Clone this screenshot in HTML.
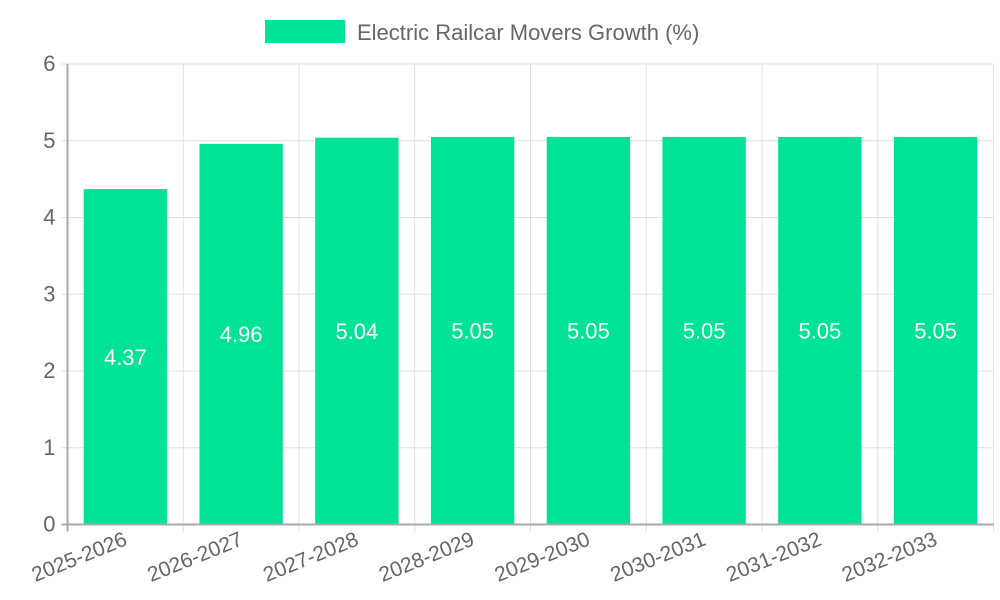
<!DOCTYPE html>
<html><head><meta charset="utf-8"><style>
body{margin:0;background:#fff;}
svg{display:block;font-family:"Liberation Sans",sans-serif;}
</style></head><body>
<svg id="chart" width="1000" height="600">
<g id="legend">
<rect x="265" y="20" width="80" height="23" fill="#00e295"/>
<text x="357" y="40" font-size="22" fill="#666">Electric Railcar Movers Growth (%)</text>
</g>
<g id="grid"></g><g id="bars"></g><g id="axes"></g>
</svg>
<script>
const categories=["2025-2026","2026-2027","2027-2028","2028-2029","2029-2030","2030-2031","2031-2032","2032-2033"];
const values=[4.37,4.96,5.04,5.05,5.05,5.05,5.05,5.05];
const yTicks=[0,1,2,3,4,5,6];
const NS="http://www.w3.org/2000/svg";
const L=67.5,R=993.5,T=64,B=524.5,yMax=6;
const y=v=>B-(v/yMax)*(B-T);
const bw=(R-L)/categories.length;
const x=i=>L+i*bw;
function mk(tag,attrs,parent,txt){const e=document.createElementNS(NS,tag);for(const k in attrs)e.setAttribute(k,attrs[k]);if(txt!==undefined)e.textContent=txt;parent.appendChild(e);return e;}
const grid=document.getElementById('grid'),bars=document.getElementById('bars'),axes=document.getElementById('axes');
yTicks.forEach(t=>{
  const g=mk('line',{x1:L-6,x2:R,y1:y(t),y2:y(t),stroke:t===0?'#aaa':'#e0e0e0','stroke-width':t===0?2:1},t===0?axes:grid);
  
  
  const tx=mk('text',{x:L-12,y:y(t)+7,'text-anchor':'end','font-size':22,fill:'#666'},axes,String(t));
  
  
});
for(let i=0;i<=categories.length;i++){
  const g=mk('line',{x1:x(i),x2:x(i),y1:T,y2:B+7,stroke:i===0?'#aaa':'#e0e0e0','stroke-width':i===0?2:1},i===0?axes:grid);
  
  
}
categories.forEach((c,i)=>{
  const cx=x(i)+bw/2,w=bw*0.72;
  const r=mk('rect',{x:cx-w/2,y:y(values[i]),width:w,height:B-1-y(values[i]),fill:'#00e295'},bars);
  
  
  const v=mk('text',{x:cx,y:(y(values[i])+B)/2+8,'text-anchor':'middle','font-size':22,fill:'#fff'},bars,values[i].toFixed(2));
  
  
  const lb=mk('text',{x:cx+3,y:B+20,'text-anchor':'end','font-size':21,fill:'#666',transform:`rotate(-22 ${cx+3} ${B+20})`},axes,c);
  
  
});
</script>
</body></html>
